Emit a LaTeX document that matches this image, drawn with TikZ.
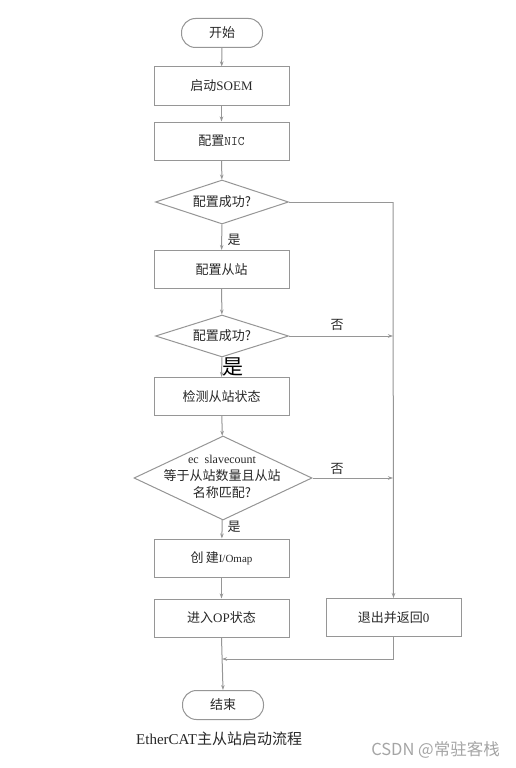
\documentclass[tikz,border=0pt]{standalone}
\usepackage{fontspec}
\setmainfont{Liberation Serif}
\newfontfamily\cjk{Noto Sans CJK SC}
\usetikzlibrary{shapes.geometric,arrows.meta}
\definecolor{linegray}{RGB}{150,150,150}
\definecolor{txt}{RGB}{40,40,40}
\definecolor{wm}{RGB}{165,165,165}
\begin{document}
\begin{tikzpicture}[x=1pt,y=-1pt,
  ln/.style={draw=linegray,line width=1pt},
  arr/.style={ln,-{Stealth[length=5pt,width=3.5pt]}},
  box/.style={draw=linegray,line width=1pt,minimum width=135pt,minimum height=38pt,inner sep=0pt,font=\fontsize{13}{15}\selectfont,text=txt},
  term/.style={draw=linegray,line width=1pt,rounded corners=14pt,minimum width=81pt,minimum height=29pt,inner sep=0pt,font=\fontsize{13}{15}\selectfont,text=txt},
  dec/.style={draw=linegray,line width=1pt,diamond,inner sep=0pt,text=txt},
  lbl/.style={font=\fontsize{13}{15}\selectfont\cjk,text=txt}
]
\useasboundingbox (0,0) rectangle (516,768);
\fill[white] (0,0) rectangle (516,768);

\node[term] (s) at (222,33) {\cjk 开始};
\node[box] (b1) at (221.5,86) {{\cjk 启动}SOEM};
\node[box] (b2) at (221.5,141) {{\cjk 配置}{\ttfamily NIC}};
\node[dec,minimum width=133pt,minimum height=44pt,
  label={[lbl]center:配置成功?}] (d1) at (222,202) {};
\node[box] (b3) at (221.5,269.5) {\cjk 配置从站};
\node[dec,minimum width=133pt,minimum height=42pt,
  label={[lbl]center:配置成功?}] (d2) at (222,336) {};
\node[box] (b4) at (221.5,396.5) {\cjk 检测从站状态};
\node[dec,minimum width=178pt,minimum height=84pt] (d3) at (223,478) {};
\node[text=txt,align=center,inner sep=0pt] (d3t) at (222,477)
  {{\fontsize{12}{13}\selectfont ec\enspace slavecount}\\[5pt]
   {\fontsize{13}{14}\selectfont\cjk 等于从站数量且从站}\\[4pt]
   {\fontsize{13}{14}\selectfont\cjk 名称匹配?}};
\node[box] (b5) at (221.5,558) {{\cjk 创\,建}{\fontsize{11}{12}\selectfont I/Omap}};
\node[box] (b6) at (221.5,618) {{\cjk 进入}OP{\cjk 状态}};
\node[box] (b7) at (393.5,617.5) {{\cjk 退出并返回}0};
\node[term] (e) at (223,705) {\cjk 结束};
\coordinate (m) at (222,659);
\coordinate (r1) at (393,202);
\coordinate (r2) at (393,336);
\coordinate (r3) at (393,478);

\draw[arr] (s) -- (b1);
\draw[arr] (b1) -- (b2);
\draw[arr] (b2) -- (d1);
\draw[arr] (d1) -- (b3);
\draw[arr] (b3) -- (d2);
\draw[arr] (d2) -- (b4);
\draw[arr] (b4) -- (d3);
\draw[arr] (d3) -- (b5);
\draw[arr] (b5) -- (b6);
\draw[arr] (b6.south) -- (e.north);
\draw[ln] (d1.east) -- (r1);
\draw[arr] (r1) -- (b7.north);
\draw[arr] (d2.east) -- (r2);
\draw[arr] (d3.east) -- (r3);
\draw[arr] (b7.south) |- (m);

\node[lbl] (y1) at (234,240) {是};
\node[font=\fontsize{21}{22}\selectfont\cjk,text=black] (y2) at (233,367) {是};
\node[lbl] (y3) at (234,527) {是};
\node[lbl] (n2) at (337,325) {否};
\node[lbl] (n3) at (337,469) {否};

\node[anchor=west,inner sep=0pt,font=\fontsize{15}{17}\selectfont,text=txt] (cap) at (136,739) {EtherCAT{\cjk 主从站启动流程}};
\node[anchor=east,inner sep=0pt,font=\fontsize{16.5}{18}\selectfont\cjk,text=wm] (wmk) at (500,750) {CSDN @常驻客栈};
\end{tikzpicture}
\end{document}
